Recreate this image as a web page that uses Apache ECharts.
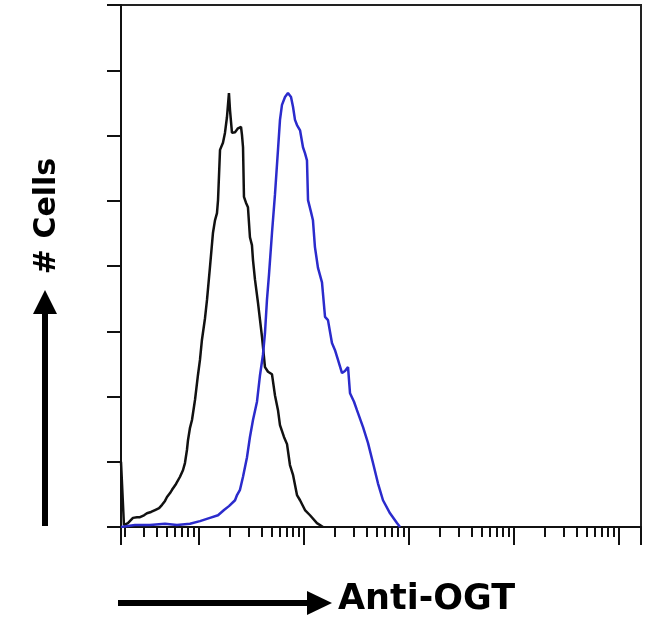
<!DOCTYPE html>
<html>
<head>
<meta charset="utf-8">
<script src="https://cdn.jsdelivr.net/npm/echarts@6/dist/echarts.min.js"></script>
<style>
html,body{margin:0;padding:0;background:#fff;}
#c{width:650px;height:641px;}
</style>
</head>
<body>
<div id="c"></div>
<script>
// x values are log10 of intensity (decades); y values are cell counts in tick units
const xMin = 0.264;
const xMax = 5.216;
const decades = [1, 2, 3, 4, 5];
const minorMultipliers = [2, 3, 4, 5, 6, 7, 8, 9];
const minorDecades = [0, 1, 2, 3, 4, 5];
const yMax = 8;

const controlSeries = [[0.264,1.00],[0.283,1.00],[0.292,0.03],[0.330,0.06],[0.378,0.14],[0.416,0.15],[0.445,0.15],[0.483,0.18],[0.511,0.21],[0.550,0.23],[0.588,0.26],[0.627,0.29],[0.655,0.34],[0.683,0.40],[0.702,0.46],[0.731,0.52],[0.750,0.57],[0.788,0.66],[0.826,0.77],[0.854,0.87],[0.873,0.98],[0.892,1.18],[0.902,1.33],[0.921,1.52],[0.940,1.64],[0.969,1.95],[0.997,2.33],[1.016,2.56],[1.035,2.87],[1.064,3.20],[1.083,3.48],[1.111,3.98],[1.140,4.51],[1.159,4.70],[1.178,4.81],[1.188,5.01],[1.207,5.78],[1.235,5.89],[1.254,6.04],[1.273,6.28],[1.292,6.65],[1.302,6.39],[1.321,6.04],[1.350,6.05],[1.378,6.11],[1.407,6.13],[1.416,6.01],[1.426,5.82],[1.435,5.06],[1.454,4.97],[1.473,4.90],[1.492,4.44],[1.511,4.32],[1.521,4.09],[1.540,3.79],[1.569,3.43],[1.588,3.17],[1.607,2.91],[1.635,2.45],[1.664,2.38],[1.702,2.34],[1.730,2.02],[1.759,1.79],[1.778,1.56],[1.816,1.38],[1.845,1.27],[1.873,0.95],[1.902,0.80],[1.940,0.49],[1.969,0.41],[2.016,0.26],[2.064,0.18],[2.130,0.06],[2.188,0]];

const ogtSeries = [[0.264,0],[0.397,0.03],[0.540,0.03],[0.683,0.05],[0.797,0.03],[0.921,0.05],[1.016,0.09],[1.111,0.14],[1.188,0.18],[1.245,0.26],[1.292,0.32],[1.350,0.41],[1.369,0.49],[1.397,0.57],[1.426,0.77],[1.464,1.07],[1.492,1.38],[1.521,1.64],[1.559,1.92],[1.588,2.33],[1.616,2.64],[1.635,2.97],[1.654,3.48],[1.673,3.86],[1.702,4.51],[1.730,5.09],[1.759,5.78],[1.778,6.24],[1.797,6.47],[1.826,6.59],[1.854,6.65],[1.883,6.59],[1.902,6.44],[1.921,6.24],[1.940,6.16],[1.969,6.08],[1.997,5.82],[2.016,5.73],[2.035,5.62],[2.045,5.01],[2.073,4.83],[2.092,4.70],[2.111,4.29],[2.140,3.97],[2.178,3.75],[2.207,3.22],[2.235,3.17],[2.254,3.14],[2.273,2.82],[2.302,2.71],[2.321,2.61],[2.369,2.36],[2.397,2.39],[2.426,2.45],[2.445,2.05],[2.483,1.92],[2.511,1.79],[2.569,1.53],[2.616,1.29],[2.664,0.98],[2.711,0.67],[2.759,0.41],[2.826,0.21],[2.892,0.06],[2.921,0]];

const yLabel = '# Cells';
const xLabel = 'Anti-OGT';

const majorTicks = [xMin].concat(decades).concat([xMax]);
const minorTicks = [];
minorDecades.forEach(d => minorMultipliers.forEach(m => {
  const v = d + Math.log10(m);
  if (v > xMin + 0.01 && v < xMax - 0.01) minorTicks.push(v);
}));

const chart = echarts.init(document.getElementById('c'), null, {renderer: 'canvas'});
const baseX = {
  type: 'value', min: xMin, max: xMax, position: 'bottom', offset: 0,
  axisLabel: {show: false}, splitLine: {show: false}
};
chart.setOption({
  animation: false,
  grid: {left: 121, right: 9, top: 5, bottom: 114, show: true, borderColor: '#222', borderWidth: 2, backgroundColor: 'transparent'},
  xAxis: [
    Object.assign({}, baseX, {
      axisLine: {show: true, lineStyle: {color: '#111', width: 2}},
      axisTick: {show: true, customValues: majorTicks, length: 18, lineStyle: {color: '#111', width: 2}}
    }),
    Object.assign({}, baseX, {
      axisLine: {show: false},
      axisTick: {show: true, customValues: minorTicks, length: 10, lineStyle: {color: '#111', width: 2}}
    })
  ],
  yAxis: {
    type: 'value', min: 0, max: yMax, interval: 1,
    axisLine: {show: true, lineStyle: {color: '#111', width: 2}},
    axisTick: {show: true, length: 14, lineStyle: {color: '#111', width: 2}},
    axisLabel: {show: false}, splitLine: {show: false}
  },
  series: [
    {type: 'line', data: controlSeries, showSymbol: false, xAxisIndex: 0, lineStyle: {color: '#111', width: 2.5}, itemStyle: {color: '#111'}, z: 3},
    {type: 'line', data: ogtSeries, showSymbol: false, xAxisIndex: 0, lineStyle: {color: '#2b2bcc', width: 2.5}, itemStyle: {color: '#2b2bcc'}, z: 4}
  ],
  graphic: [
    {type: 'rect', shape: {x: 42, y: 312, width: 6, height: 214}, style: {fill: '#000'}},
    {type: 'polygon', shape: {points: [[33, 314], [57, 314], [45, 290]]}, style: {fill: '#000'}},
    {type: 'rect', shape: {x: 118, y: 600, width: 192, height: 6}, style: {fill: '#000'}},
    {type: 'polygon', shape: {points: [[307, 591], [307, 615], [332, 603]]}, style: {fill: '#000'}},
    {type: 'text', x: 47, y: 216, rotation: Math.PI / 2,
      style: {text: yLabel, fill: '#000', font: 'bold 30px "DejaVu Sans"', textAlign: 'center', textVerticalAlign: 'middle'}},
    {type: 'text', x: 338, y: 600,
      style: {text: xLabel, fill: '#000', font: 'bold 35px "DejaVu Sans"', textAlign: 'left', textVerticalAlign: 'middle'}}
  ]
});
</script>
</body>
</html>
